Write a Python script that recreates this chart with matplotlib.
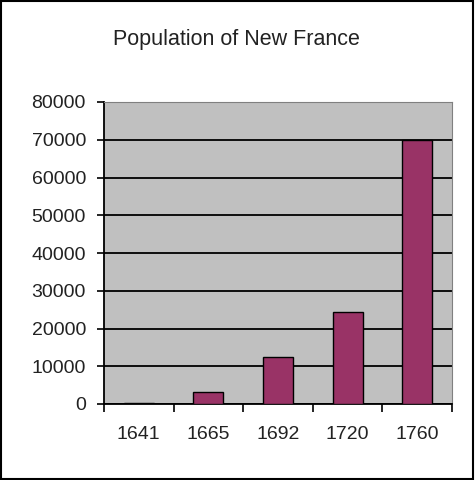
import matplotlib.pyplot as plt
import numpy as np

years = ["1641", "1665", "1692", "1720", "1760"]
population = [300, 3200, 12400, 24400, 70000]
yticks = [0, 10000, 20000, 30000, 40000, 50000, 60000, 70000, 80000]

plt.rcParams['font.family'] = ['Liberation Sans', 'DejaVu Sans']

fig = plt.figure(figsize=(4.75, 4.8), dpi=100)
ax = fig.add_axes([104/475, 1-404/480, 348/475, 302/480])
ax.set_facecolor('#C0C0C0')

x = np.arange(len(years))
ax.bar(x, population, width=0.43, color='#993366', edgecolor='black', linewidth=1, zorder=3)

ax.set_xlim(-0.5, len(years) - 0.5)
ax.set_ylim(0, 80000)
ax.set_yticks(yticks)
ax.set_yticklabels([str(v) for v in yticks], fontsize=14, color='#222222')
ax.yaxis.grid(True, color='black', linewidth=1.3, zorder=1)

# category ticks on boundaries, labels centred
ax.set_xticks(np.arange(len(years) + 1) - 0.5)
ax.set_xticklabels([])
ax.set_xticks(x, minor=True)
ax.set_xticklabels(years, minor=True, fontsize=14, color='#222222')
ax.tick_params(axis='x', which='minor', length=0, pad=16)
ax.tick_params(axis='x', which='major', length=6, width=1.2, direction='out')
ax.tick_params(axis='y', length=5, width=1.2, direction='out', pad=8)

ax.spines['left'].set_linewidth(1.3)
ax.spines['bottom'].set_linewidth(1.3)
ax.spines['top'].set_color('#808080')
ax.spines['right'].set_color('#808080')

fig.text(236/475, 1-40/480, 'Population of New France', ha='center', va='center',
         fontsize=15.5, color='#222222')

fig.patches.append(plt.Rectangle((0.002, 0.003), 0.994, 0.994, transform=fig.transFigure,
                                 fill=False, edgecolor='black', linewidth=1.5))

fig.savefig('out.png', dpi=100)
